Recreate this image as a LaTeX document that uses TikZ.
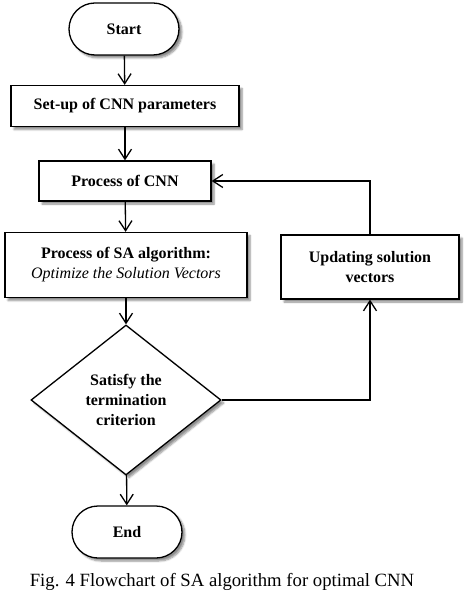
\documentclass[tikz,border=0pt]{standalone}
\usepackage{fontspec}
\setmainfont{Liberation Serif}
\usetikzlibrary{shapes.geometric,arrows.meta,shadows.blur}

\begin{document}
\begin{tikzpicture}[x=1pt,y=-1pt,line width=1.3pt,
  box/.style={draw,fill=white,inner sep=0pt,align=center,
    font=\fontsize{16pt}{20pt}\selectfont\bfseries,
    blur shadow={shadow xshift=3pt,shadow yshift=-3pt,shadow blur steps=6,shadow opacity=45}},
  term/.style={box,rounded corners=26pt,minimum width=110pt,minimum height=52pt},
  arr/.style={-{Straight Barb[length=10pt,width=13pt]}}]
\useasboundingbox (0,0) rectangle (474,593);
\node[term] (start) at (124,29) {Start};
\node[box,minimum width=228pt,minimum height=41pt] (setup) at (125,106) {Set-up of CNN parameters};
\node[box,minimum width=172pt,minimum height=40pt] (cnn) at (125,181) {Process of CNN};
\node[box,minimum width=242pt,minimum height=65pt] (sa) at (126,265) {Process of SA algorithm:\\ \mdseries\itshape Optimize the Solution Vectors};
\node[box,diamond,minimum width=190pt,minimum height=150pt] (test) at (126,400) {Satisfy the\\ termination\\ criterion};
\node[term] (stop) at (127,532) {End};
\node[box,minimum width=178pt,minimum height=64pt] (upd) at (370,267) {Updating solution\\ vectors};
\node[font=\fontsize{18.7pt}{20pt}\selectfont] (cap) at (222,582) {Fig. 4 Flowchart of SA algorithm for optimal CNN};
\draw[arr] (start) -- (setup);
\draw[arr] (setup) -- (cnn);
\draw[arr] (cnn) -- (sa);
\draw[arr] (sa) -- (test);
\draw[arr] (test) -- (stop);
\draw[arr] (test.east) -| (upd.south);
\draw[arr] (upd.north) |- (cnn.east);
\end{tikzpicture}
\end{document}
